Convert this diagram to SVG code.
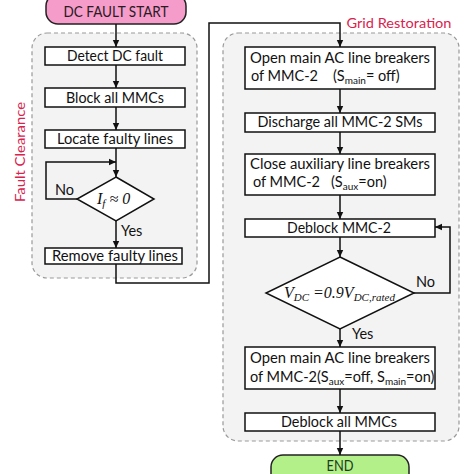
<svg xmlns="http://www.w3.org/2000/svg" width="474" height="474" viewBox="0 0 474 474">
<defs>
<marker id="ah" markerWidth="8" markerHeight="8" refX="7" refY="4" orient="auto" markerUnits="userSpaceOnUse">
<path d="M0,0.8 L7,4 L0,7.2 Z" fill="#111"/>
</marker>
<style>
.box{fill:#fff;stroke:#111;stroke-width:1.5}
.cont{fill:#f3f3f3;stroke:#999;stroke-width:1.2;stroke-dasharray:4 3}
.t{font-family:Lato,"Open Sans","Liberation Sans",sans-serif;font-size:14.5px;fill:#111;text-anchor:middle}
.tl{font-family:Lato,"Open Sans","Liberation Sans",sans-serif;font-size:14.5px;fill:#111}
.red{font-family:Lato,"Open Sans","Liberation Sans",sans-serif;font-size:14px;fill:#d9234f}
.m{font-family:"Liberation Serif","DejaVu Serif",serif;font-style:italic;font-size:16px;fill:#111}
.c{fill:none;stroke:#111;stroke-width:1.5}
</style>
</defs>
<rect width="474" height="474" fill="#fff"/>
<g id="containers">
<rect class="cont" x="32" y="33" width="165" height="245" rx="15"/>
<rect class="cont" x="223" y="33" width="236" height="408" rx="15"/>
<text class="red" transform="translate(25,152) rotate(-90)" text-anchor="middle" textLength="100" lengthAdjust="spacingAndGlyphs">Fault Clearance</text>
<text class="red" x="399" y="28" text-anchor="middle" textLength="105" lengthAdjust="spacingAndGlyphs">Grid Restoration</text>
</g>
<g id="start">
<rect x="46" y="-6" width="140" height="30" rx="12" fill="#f59cca" stroke="#222" stroke-width="1.5"/>
<text class="t" x="116" y="17" fill="#222" textLength="105" lengthAdjust="spacingAndGlyphs" style="fill:#2a1a22">DC FAULT START</text>
</g>
<g id="detect">
<rect class="box" x="45" y="47" width="140" height="18"/>
<text class="t" x="115" y="61" textLength="96" lengthAdjust="spacingAndGlyphs">Detect DC fault</text>
</g>
<g id="block">
<rect class="box" x="45" y="88" width="140" height="19"/>
<text class="t" x="115" y="103" textLength="98" lengthAdjust="spacingAndGlyphs">Block all MMCs</text>
</g>
<g id="locate">
<rect class="box" x="45" y="130" width="140" height="18"/>
<text class="t" x="115" y="144" textLength="116" lengthAdjust="spacingAndGlyphs">Locate faulty lines</text>
</g>
<g id="dec1">
<polygon class="box" points="116,177 154,199 116,221 77,199"/>
<text class="m" x="97" y="204">I<tspan font-size="11" dy="3">f</tspan><tspan dy="-3"> ≈ 0</tspan></text>
</g>
<g id="remove">
<rect class="box" x="45" y="248" width="137" height="16"/>
<text class="t" x="115" y="261" textLength="126" lengthAdjust="spacingAndGlyphs">Remove faulty lines</text>
</g>
<g id="open1">
<rect class="box" x="245" y="47" width="190" height="42"/>
<text class="tl" x="250" y="63" textLength="180" lengthAdjust="spacingAndGlyphs">Open main AC line breakers</text>
<text class="tl" x="251" y="81">of MMC-2<tspan x="333">(S</tspan><tspan font-size="10" dy="3">main</tspan><tspan dy="-3">= off)</tspan></text>
</g>
<g id="discharge">
<rect class="box" x="245" y="113" width="190" height="19"/>
<text class="t" x="340" y="127" textLength="165" lengthAdjust="spacingAndGlyphs">Discharge all MMC-2 SMs</text>
</g>
<g id="close">
<rect class="box" x="245" y="154" width="190" height="41"/>
<text class="tl" x="250" y="169" textLength="180" lengthAdjust="spacingAndGlyphs">Close auxiliary line breakers</text>
<text class="tl" x="253" y="187">of MMC-2<tspan x="331">(S</tspan><tspan font-size="10" dy="3">aux</tspan><tspan dy="-3">=on)</tspan></text>
</g>
<g id="deblock2">
<rect class="box" x="245" y="219" width="190" height="18"/>
<text class="t" x="339" y="233" textLength="104" lengthAdjust="spacingAndGlyphs">Deblock MMC-2</text>
</g>
<g id="dec2">
<polygon class="box" points="340,257 414,293 340,329 266,293"/>
<text class="m" x="284" y="298">V<tspan font-size="11" dy="3">DC</tspan><tspan dy="-3"> =0.9V</tspan><tspan font-size="11" dy="3">DC,rated</tspan></text>
</g>
<g id="open2">
<rect class="box" x="245" y="347" width="190" height="42"/>
<text class="tl" x="250" y="363" textLength="180" lengthAdjust="spacingAndGlyphs">Open main AC line breakers</text>
<text class="tl" x="250" y="382">of MMC-2(S<tspan font-size="10" dy="3">aux</tspan><tspan dy="-3">=off, S</tspan><tspan font-size="10" dy="3">main</tspan><tspan dy="-3">=on)</tspan></text>
</g>
<g id="deblockall">
<rect class="box" x="245" y="413" width="190" height="18"/>
<text class="t" x="339" y="427" textLength="116" lengthAdjust="spacingAndGlyphs">Deblock all MMCs</text>
</g>
<g id="end">
<rect x="271" y="455" width="138" height="32" rx="12" fill="#b4f08a" stroke="#222" stroke-width="1.5"/>
<text class="t" x="340" y="471" style="fill:#1d3a1d" textLength="27" lengthAdjust="spacingAndGlyphs">END</text>
</g>
<g id="connectors">
<path class="c" d="M116,24 V47" marker-end="url(#ah)"/>
<path class="c" d="M116,65 V88" marker-end="url(#ah)"/>
<path class="c" d="M116,107 V130" marker-end="url(#ah)"/>
<path class="c" d="M116,148 V177" marker-end="url(#ah)"/>
<path class="c" d="M77,199 H46 V162 H116" marker-end="url(#ah)"/>
<path class="c" d="M116,221 V248" marker-end="url(#ah)"/>
<path class="c" d="M116,264 V283 H209 V23 H340 V47" marker-end="url(#ah)"/>
<path class="c" d="M340,89 V113" marker-end="url(#ah)"/>
<path class="c" d="M340,132 V154" marker-end="url(#ah)"/>
<path class="c" d="M340,195 V219" marker-end="url(#ah)"/>
<path class="c" d="M340,237 V257" marker-end="url(#ah)"/>
<path class="c" d="M414,293 H450 V227 H435" marker-end="url(#ah)"/>
<path class="c" d="M340,329 V347" marker-end="url(#ah)"/>
<path class="c" d="M340,389 V413" marker-end="url(#ah)"/>
<path class="c" d="M340,431 V455" marker-end="url(#ah)"/>
<text class="tl" x="55" y="195">No</text>
<text class="tl" x="121" y="236">Yes</text>
<text class="tl" x="416" y="287">No</text>
<text class="tl" x="352" y="339">Yes</text>
</g>
</svg>
